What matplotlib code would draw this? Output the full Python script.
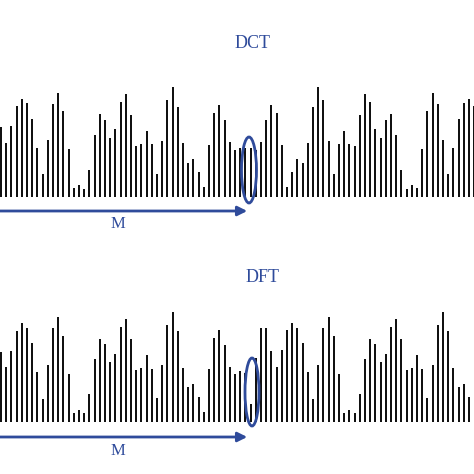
import matplotlib
matplotlib.use("Agg")
import matplotlib.pyplot as plt
from matplotlib.patches import Ellipse

# bar heights (arbitrary units)
base_tops = [140,187,138,77,55,68,115,202,282,179,70,37,92,207,323,315,325,268,163,102,118,
             172,147,66,42,103,196,190,151,192,280,181,59,21,79,188,247,237,275,320,193,99,75,120,185,208]
dct_middle = [204, 204, 204]
dft_middle = [198, 205, 298, 160, 68, 68]
dft_tail = [138,185,136,75,55,68,115,202,282,179,70,37,92,207,323,315,325,268,163,102,118,
            172,147,66,42,103,196,190,151,192,280,181,59,21,79,188,247,237,275]

A = [350 - t for t in base_tops]
dct_vals = A + [350 - t for t in dct_middle] + A[::-1]
dft_vals = A + [350 - t for t in dft_middle] + [350 - t for t in dft_tail]

blue = "#2f4b9b"
W = H = 474
fig = plt.figure(figsize=(4.74, 4.74), dpi=100)

def panel(vals, top_px, bot_px, base_px, ell, arrow_px, m_px, title, title_xy):
    ax = fig.add_axes([0, 1 - bot_px / H, 1, (bot_px - top_px) / H])
    ax.bar(range(len(vals)), vals, width=0.4, color="#111111", lw=0)
    ax.set_xlim(-1 / 5.2, (W - 1) / 5.2)
    ax.set_ylim(-(bot_px - base_px) * 3, (base_px - top_px) * 3)
    ax.axis("off")
    ex, ew, ey, eh = ell
    ax.add_patch(Ellipse(((ex - 1) / 5.2, (base_px - ey) * 3), ew / 5.2, eh * 3,
                         fill=False, ec=blue, lw=2))
    ay = -(arrow_px - base_px) * 3
    ax.annotate("", xy=((250 - 1) / 5.2, ay), xytext=(-2, ay),
                arrowprops=dict(arrowstyle="-|>", color=blue, lw=2, mutation_scale=14))
    ax.text((118 - 1) / 5.2, -(m_px - base_px) * 3, "M", color=blue, ha="center", va="center",
            fontsize=12, family="Liberation Serif")
    fig.text(title_xy[0] / W, 1 - title_xy[1] / H, title, color=blue, ha="center", va="center",
             fontsize=13, family="Liberation Serif")

panel(dct_vals, 80, 240, 197, (249, 15, 170, 66), 211, 224, "DCT", (253, 44))
panel(dft_vals, 305, 465, 421.7, (252, 14, 392, 68), 437, 451, "DFT", (263, 278))

fig.savefig("out.png", dpi=100)
